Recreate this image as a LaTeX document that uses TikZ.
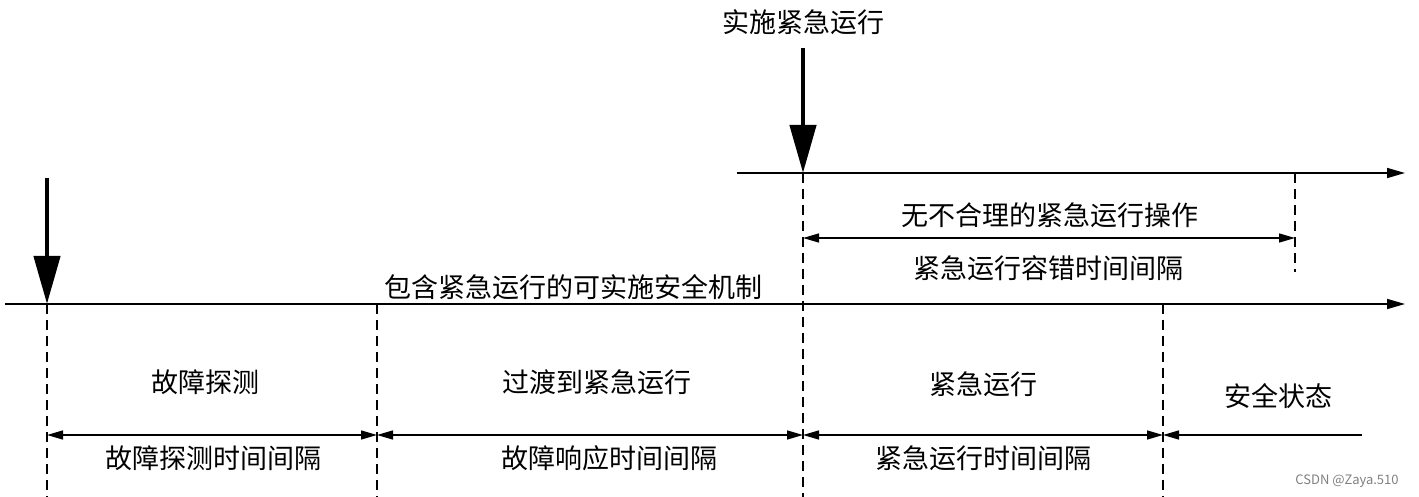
\documentclass[tikz,border=0pt]{standalone}
\usepackage{fontspec}
\setmainfont{Noto Sans CJK SC}
\usetikzlibrary{arrows.meta}
\begin{document}
\begin{tikzpicture}[x=0.5pt,y=-0.5pt,
  lbl/.style={font=\fontsize{13.5}{15}\selectfont,inner sep=0pt},
  tl/.style={line width=0.8pt,-{Triangle[length=9pt,width=5pt]}},
  dsh/.style={line width=0.6pt,dash pattern=on 5pt off 3pt},
  big/.style={line width=2.2pt,-{Triangle[length=24pt,width=13pt]}},
  dbl/.style={line width=0.7pt,{Triangle[length=8pt,width=4.5pt]}-{Triangle[length=8pt,width=4.5pt]}}]
\useasboundingbox (0,0) rectangle (1419,497);
% coordinates
\coordinate (u0) at (737,173); \coordinate (u1) at (1405,173);
\coordinate (l0) at (5,304); \coordinate (l1) at (1405,304);
\coordinate (a1t) at (803,48); \coordinate (a1b) at (803,173);
\coordinate (a2t) at (47,178); \coordinate (a2b) at (47,304);
\foreach \n/\x/\ya in {d1/47/304,d2/377/304,d3/803/173,d4/1163/304}{
  \coordinate (\n t) at (\x,\ya); \coordinate (\n b) at (\x,497);}
\coordinate (d5t) at (1295,173); \coordinate (d5b) at (1295,272);
\coordinate (ua) at (803,238); \coordinate (ub) at (1295,238);
\coordinate (p1) at (47,435); \coordinate (p2) at (377,435);
\coordinate (p3) at (803,435); \coordinate (p4) at (1163,435); \coordinate (p5) at (1362,435);
% lines
\draw[tl] (u0) -- (u1);
\draw[tl] (l0) -- (l1);
\draw[big] (a1t) -- (a1b);
\draw[big] (a2t) -- (a2b);
\foreach \n in {d1,d2,d3,d4,d5} \draw[dsh] (\n t) -- (\n b);
\draw[dbl] (ua) -- (ub);
\draw[dbl] (p1) -- (p2);
\draw[dbl] (p2) -- (p3);
\draw[dbl] (p3) -- (p4);
\draw[line width=0.7pt,{Triangle[length=8pt,width=4.5pt]}-] (p4) -- (p5);
% labels
\node[lbl] (t1) at (803,22) {实施紧急运行};
\node[lbl] (t2) at (573,287) {包含紧急运行的可实施安全机制};
\node[lbl] (t3) at (1050,215) {无不合理的紧急运行操作};
\node[lbl] (t4) at (1048,268) {紧急运行容错时间间隔};
\node[lbl] (t5) at (205,382) {故障探测};
\node[lbl] (t6) at (597,382) {过渡到紧急运行};
\node[lbl] (t7) at (983,384) {紧急运行};
\node[lbl] (t8) at (1278,396) {安全状态};
\node[lbl] (t9) at (213,458) {故障探测时间间隔};
\node[lbl] (t10) at (609,458) {故障响应时间间隔};
\node[lbl] (t11) at (983,458) {紧急运行时间间隔};
\node[font=\fontsize{6.5}{8}\selectfont,text=gray,inner sep=0pt] (wm) at (1347,481) {CSDN @Zaya.510};
\end{tikzpicture}
\end{document}
